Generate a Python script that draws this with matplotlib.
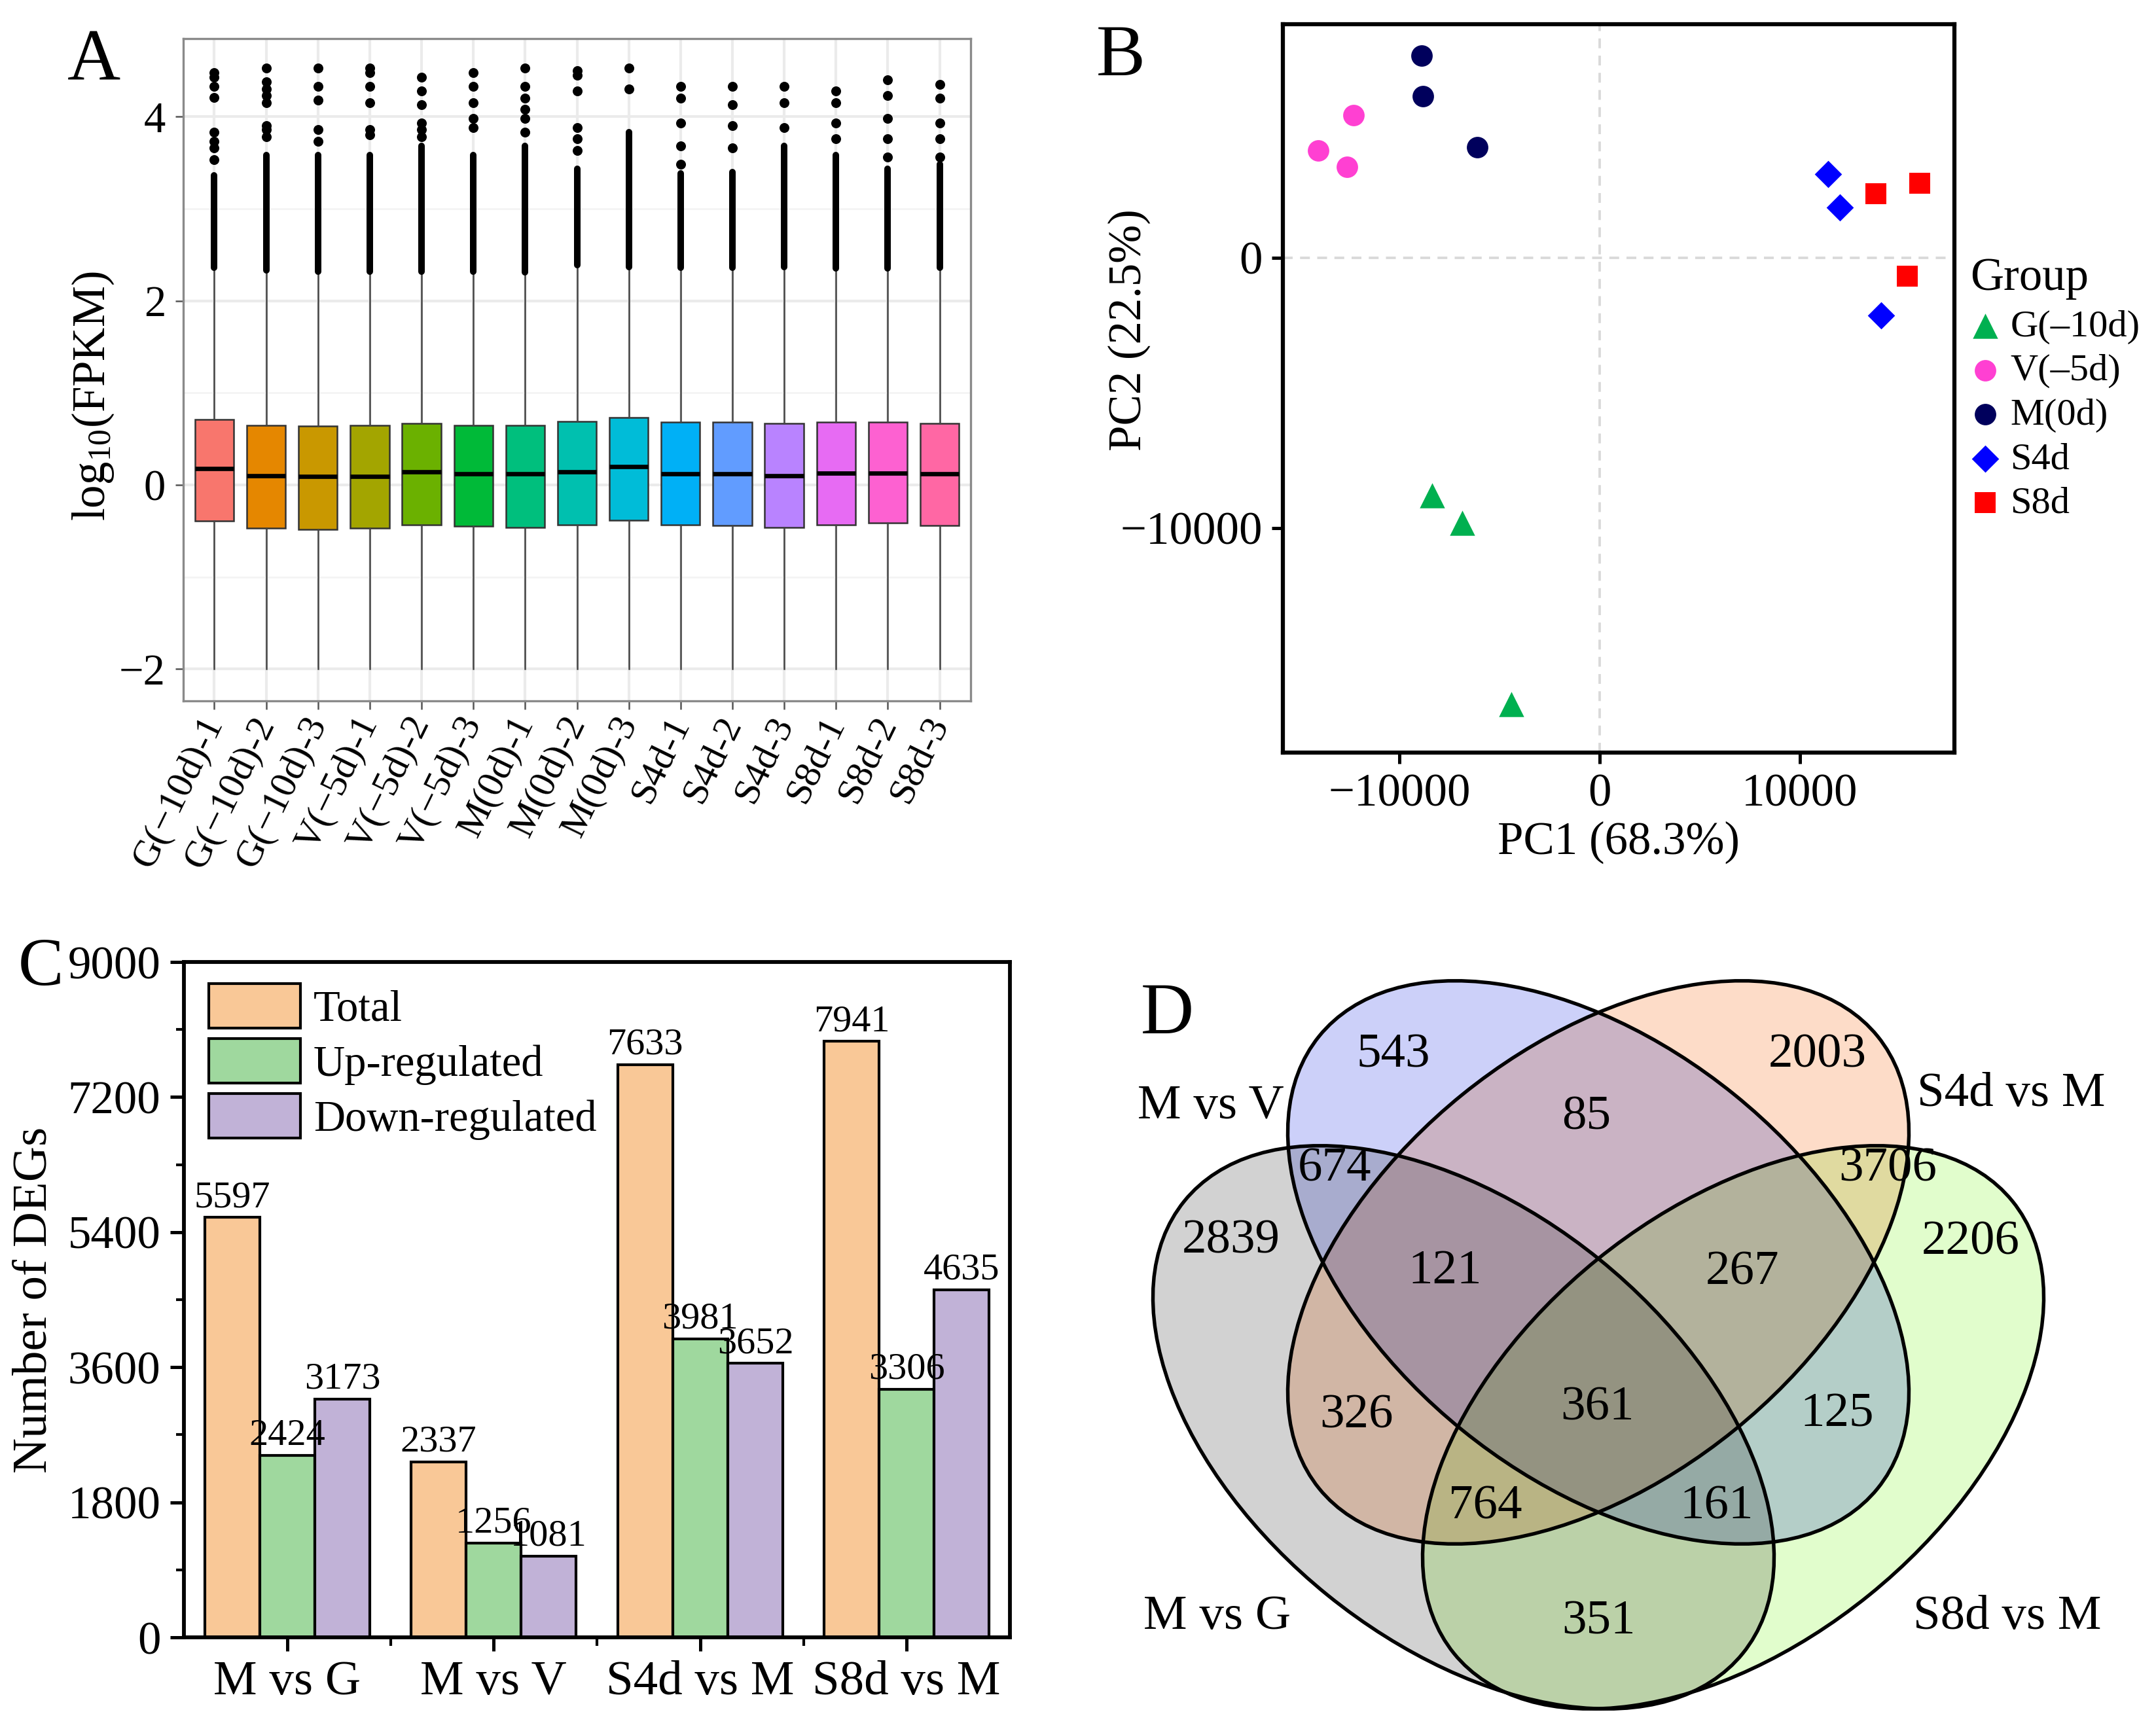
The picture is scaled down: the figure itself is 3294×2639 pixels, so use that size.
import matplotlib.pyplot as plt
import numpy as np
from matplotlib.colors import to_rgb
from matplotlib.patches import Ellipse

plt.rcParams.update(
    {
        "font.family": ["Liberation Serif", "DejaVu Serif"],
        "mathtext.fontset": "custom",
        "mathtext.rm": "Liberation Serif",
        "mathtext.it": "Liberation Serif:italic",
        "axes.unicode_minus": True,
    }
)

W, H, DPI = 3294, 2639, 300

# ---- A: boxplot of log10(FPKM) per sample ----
samples = [
    "G(−10d)-1", "G(−10d)-2", "G(−10d)-3",
    "V(−5d)-1", "V(−5d)-2", "V(−5d)-3",
    "M(0d)-1", "M(0d)-2", "M(0d)-3",
    "S4d-1", "S4d-2", "S4d-3",
    "S8d-1", "S8d-2", "S8d-3",
]
box_q1 = [-0.39, -0.47, -0.48, -0.47, -0.43, -0.45, -0.46, -0.43, -0.38,
          -0.43, -0.44, -0.46, -0.43, -0.41, -0.44]
box_med = [0.18, 0.10, 0.09, 0.09, 0.14, 0.12, 0.12, 0.14, 0.20,
           0.12, 0.12, 0.10, 0.13, 0.13, 0.12]
box_q3 = [0.71, 0.65, 0.64, 0.65, 0.67, 0.65, 0.65, 0.69, 0.73,
          0.68, 0.68, 0.67, 0.68, 0.68, 0.67]
whisker_lo = [-2.0] * 15
whisker_hi = [2.34, 2.31, 2.30, 2.30, 2.30, 2.30, 2.29, 2.37, 2.35,
              2.34, 2.34, 2.35, 2.33, 2.33, 2.34]
# top of the dense run of outliers above each whisker
dense_top = [3.36, 3.58, 3.58, 3.58, 3.68, 3.58, 3.68, 3.43, 3.83,
             3.38, 3.40, 3.68, 3.58, 3.43, 3.48]
sparse_fliers = [
    [3.53, 3.66, 3.73, 3.83, 4.21, 4.33, 4.43, 4.48],
    [3.78, 3.86, 3.90, 4.15, 4.23, 4.30, 4.38, 4.53],
    [3.73, 3.86, 4.18, 4.33, 4.53],
    [3.80, 3.86, 4.15, 4.33, 4.48, 4.53],
    [3.78, 3.86, 3.93, 4.13, 4.28, 4.43],
    [3.88, 3.98, 4.15, 4.33, 4.48],
    [3.83, 3.98, 4.08, 4.20, 4.33, 4.53],
    [3.63, 3.76, 3.88, 4.28, 4.45, 4.50],
    [4.30, 4.53],
    [3.48, 3.68, 3.93, 4.20, 4.33],
    [3.66, 3.90, 4.13, 4.33],
    [3.88, 4.15, 4.33],
    [3.76, 3.93, 4.15, 4.28],
    [3.56, 3.76, 3.98, 4.23, 4.40],
    [3.56, 3.76, 3.93, 4.20, 4.35],
]
box_colors = [
    "#F8766D", "#E58700", "#C99800", "#A3A500", "#6BB100",
    "#00BA38", "#00BF7D", "#00C0AF", "#00BCD8", "#00B0F6",
    "#619CFF", "#B983FF", "#E76BF3", "#FD61D1", "#FF67A4",
]

# ---- B: PCA scores ----
pca_groups = ["G(–10d)", "V(–5d)", "M(0d)", "S4d", "S8d"]
pc1_g = [-8384, -6872, -4424]
pc2_g = [-8811, -9823, -16537]
pc1_v = [-14048, -12294, -12631]
pc2_v = [3977, 5275, 3374]
pc1_m = [-8888, -8838, -6129]
pc2_m = [7477, 5984, 4103]
pc1_s4 = [11417, 12016, 14081]
pc2_s4 = [3090, 1865, -2131]
pc1_s8 = [13793, 15998, 15376]
pc2_s8 = [2361, 2751, -676]
pca_colors = ["#00B050", "#FF40D2", "#00005C", "#0000FF", "#FF0000"]
pca_markers = ["^", "o", "o", "D", "s"]

# ---- C: DEG counts ----
comparisons = ["M vs G", "M vs V", "S4d vs M", "S8d vs M"]
deg_total = [5597, 2337, 7633, 7941]
deg_up = [2424, 1256, 3981, 3306]
deg_down = [3173, 1081, 3652, 4635]
deg_names = ["Total", "Up-regulated", "Down-regulated"]
deg_colors = ["#F9C897", "#9FD89E", "#C1B2D7"]

# ---- D: Venn diagram ----
venn_sets = ["M vs G", "M vs V", "S4d vs M", "S8d vs M"]
venn_colors = ["#D3D3D3", "#CCD0FA", "#FDDCC8", "#E2FDCC"]
region_counts = [2839, 543, 2003, 2206, 674, 85, 3706, 121, 267,
                 326, 361, 125, 764, 161, 351]

# layout of the venn (figure pixels, y down)
ell_a, ell_b = 549, 330
ell_layout = [(2236, 2181, 39), (2442, 1929, 39), (2442, 1929, -39), (2648, 2181, -39)]
set_label_xy = [(1860, 2471), (1850, 1691), (3073, 1672), (3067, 2471)]
region_xy = [(1881, 1897), (2129, 1613), (2777, 1613), (3011, 1899), (2039, 1787),
             (2424, 1708), (2884, 1787), (2208, 1943), (2662, 1945), (2072, 2164),
             (2440, 2152), (2807, 2162), (2269, 2303), (2623, 2303), (2442, 2479)]


def frame(x0, y0, x1, y1):
    return [x0 / W, 1 - y1 / H, (x1 - x0) / W, (y1 - y0) / H]


fig = plt.figure(figsize=(W / DPI, H / DPI), dpi=DPI)

# Panel A
axA = fig.add_axes(frame(280, 59, 1483, 1071))
pos = np.arange(1, len(samples) + 1)
stats = [
    dict(med=m, q1=lo, q3=hi, whislo=wl, whishi=wh, fliers=[])
    for m, lo, hi, wl, wh in zip(box_med, box_q1, box_q3, whisker_lo, whisker_hi)
]
bp = axA.bxp(
    stats, positions=pos, widths=0.75, patch_artist=True, showcaps=False,
    boxprops=dict(edgecolor="#333333", linewidth=0.6),
    medianprops=dict(color="black", linewidth=1.6),
    whiskerprops=dict(color="#444444", linewidth=0.6),
)
for patch, c in zip(bp["boxes"], box_colors):
    patch.set_facecolor(c)
axA.vlines(pos, np.array(whisker_hi) + 0.02, dense_top, color="black",
           linewidth=2.4, capstyle="round", zorder=3)
for x, ys in zip(pos, sparse_fliers):
    axA.plot([x] * len(ys), ys, "o", ms=2.6, color="black", zorder=3)

axA.set_xlim(0.4, 15.6)
axA.set_ylim(-2.345, 4.847)
axA.set_yticks([-2, 0, 2, 4])
axA.set_yticks([-1, 1, 3], minor=True)
axA.tick_params(axis="y", which="minor", length=0)
axA.set_xticks(pos)
axA.set_xticklabels(samples, rotation=64, ha="right", va="center",
                    rotation_mode="anchor", fontsize=14)
axA.tick_params(axis="y", labelsize=16)
axA.tick_params(which="major", color="#555555", length=3, width=0.6)
axA.grid(True, which="major", color="#EBEBEB", linewidth=1.0)
axA.grid(True, which="minor", axis="y", color="#F3F3F3", linewidth=0.6)
axA.set_axisbelow(True)
for sp in axA.spines.values():
    sp.set_color("#8A8A8A")
    sp.set_linewidth(0.8)
axA.set_ylabel("log$_{10}$(FPKM)", fontsize=17)
axA.yaxis.set_label_coords(-0.086, 0.46)

# Panel B
axB = fig.add_axes(frame(1960, 37, 2986, 1150))
pc1_all = [pc1_g, pc1_v, pc1_m, pc1_s4, pc1_s8]
pc2_all = [pc2_g, pc2_v, pc2_m, pc2_s4, pc2_s8]
marker_sizes = [85, 62, 62, 50, 62]
axB.axvline(0, color="#D9D9D9", linestyle=(0, (4, 3)), linewidth=0.9, zorder=0)
axB.axhline(0, color="#D9D9D9", linestyle=(0, (4, 3)), linewidth=0.9, zorder=0)
handles = []
for name, xs, ys, col, mk, s in zip(pca_groups, pc1_all, pc2_all, pca_colors,
                                    pca_markers, marker_sizes):
    handles.append(axB.scatter(xs, ys, s=s, marker=mk, color=col, linewidths=0,
                               label=name, zorder=3))
axB.set_xlim(-15828, 17729)
axB.set_ylim(-18322, 8648)
axB.set_xticks([-10000, 0, 10000])
axB.set_yticks([-10000, 0])
axB.tick_params(labelsize=17, length=4, width=1.2, color="black")
for sp in axB.spines.values():
    sp.set_linewidth(1.5)
axB.set_xlabel("PC1 (68.3%)", fontsize=17, labelpad=2)
axB.set_ylabel("PC2 (22.5%)", fontsize=17)
axB.yaxis.set_label_coords(-0.197, 0.58)
legB = fig.legend(handles=handles, title="Group", loc="upper left",
                  bbox_to_anchor=(3010 / W, 1 - 393 / H), frameon=False,
                  fontsize=14, title_fontsize=17, handlelength=0.8,
                  handletextpad=0.25, labelspacing=0.25, borderpad=0,
                  borderaxespad=0)
legB._legend_box.align = "left"

# Panel C
axC = fig.add_axes(frame(281, 1470, 1543, 2502))
xc = np.arange(len(comparisons))
bw = 0.8 / 3
for k, (vals, name, col) in enumerate(zip([deg_total, deg_up, deg_down], deg_names, deg_colors)):
    bars = axC.bar(xc + (k - 1) * bw, vals, bw, color=col, edgecolor="black",
                   linewidth=1.0, label=name)
    axC.bar_label(bars, padding=1, fontsize=14)
axC.set_xlim(-0.5, 3.5)
axC.set_ylim(0, 9000)
axC.set_yticks(np.arange(0, 9001, 1800))
axC.set_yticks(np.arange(900, 9000, 1800), minor=True)
axC.set_xticks(xc)
axC.set_xticks([0.5, 1.5, 2.5], minor=True)
axC.set_xticklabels(comparisons, fontsize=18)
axC.tick_params(axis="y", labelsize=17)
axC.tick_params(which="major", direction="out", length=5, width=1.2)
axC.tick_params(which="minor", direction="out", length=3, width=1.0)
for sp in axC.spines.values():
    sp.set_linewidth(1.4)
axC.set_ylabel("Number of DEGs", fontsize=18, labelpad=4)
axC.legend(loc="upper left", bbox_to_anchor=(0.03, 0.968), frameon=False,
           fontsize=16, handlelength=2.1, handleheight=1.2, labelspacing=0.2,
           handletextpad=0.3, borderpad=0, borderaxespad=0)

# Panel D
axD = fig.add_axes(frame(1650, 1400, 3294, 2639))
x0, x1, y0, y1 = 1650, 3294, 1400, 2639
gx, gy = np.meshgrid(np.arange(x0, x1) + 0.5, np.arange(y0, y1) + 0.5)
rgb = np.ones(gx.shape + (3,))
for (cx, cy, ang), col in zip(ell_layout, venn_colors):
    t = np.deg2rad(ang)
    dx, dy = gx - cx, gy - cy
    u = dx * np.cos(t) + dy * np.sin(t)
    v = -dx * np.sin(t) + dy * np.cos(t)
    inside = (u / ell_a) ** 2 + (v / ell_b) ** 2 <= 1
    rgb[inside] *= np.array(to_rgb(col))
axD.imshow(rgb, extent=(x0, x1, y1, y0), origin="upper", interpolation="bilinear")
for cx, cy, ang in ell_layout:
    axD.add_patch(Ellipse((cx, cy), 2 * ell_a, 2 * ell_b, angle=ang, fill=False,
                          edgecolor="black", linewidth=1.3))
for (tx, ty), n in zip(region_xy, region_counts):
    axD.text(tx, ty, str(n), fontsize=18, ha="center", va="center")
for (tx, ty), name in zip(set_label_xy, venn_sets):
    axD.text(tx, ty, name, fontsize=18, ha="center", va="center")
axD.set_xlim(x0, x1)
axD.set_ylim(y1, y0)
axD.axis("off")

# panel letters
letter_xy = [(143, 95), (1712, 88), (62, 1480), (1783, 1552)]
letter_size = [27, 27, 25, 27]
for letter, (lx, ly), fs in zip("ABCD", letter_xy, letter_size):
    fig.text(lx / W, 1 - ly / H, letter, fontsize=fs, ha="center", va="center")

fig.savefig("out.png", dpi=DPI)
